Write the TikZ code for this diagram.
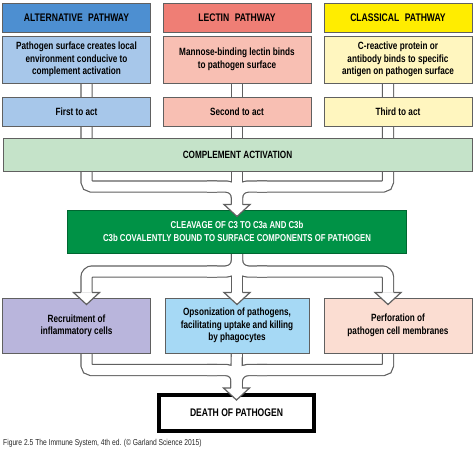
\documentclass[tikz,border=0pt]{standalone}
\usepackage{fontspec}
\setmainfont{Liberation Sans}[FakeStretch=0.78]
\usetikzlibrary{positioning}
\pgfdeclarelayer{background}
\pgfsetlayers{background,main}
\definecolor{altdark}{RGB}{77,143,209}
\definecolor{altlight}{RGB}{167,199,234}
\definecolor{lecdark}{RGB}{239,126,117}
\definecolor{leclight}{RGB}{248,191,179}
\definecolor{cladark}{RGB}{255,237,0}
\definecolor{clalight}{RGB}{255,246,191}
\definecolor{compgreen}{RGB}{197,227,201}
\definecolor{cleavgreen}{RGB}{0,146,70}
\definecolor{recpurple}{RGB}{185,181,220}
\definecolor{opsblue}{RGB}{166,217,245}
\definecolor{perfpink}{RGB}{251,221,210}
\definecolor{edge}{RGB}{96,96,96}
\newcommand{\hollowtip}[1]{%
  \filldraw[fill=white,draw=edge,line width=1.2pt] ([xshift=-5.6pt]#1) -- ([xshift=-13pt]#1)
    -- ([yshift=-12pt]#1) -- ([xshift=13pt]#1) -- ([xshift=5.6pt]#1);}

\begin{document}
\begin{tikzpicture}[x=1pt,y=-1pt,
    box/.style={draw=edge,line width=1pt,minimum width=148pt,inner sep=2pt,align=center,
      font=\fontsize{10.5}{12.4}\selectfont\bfseries},
    hdr/.style={box,minimum height=29pt,font=\fontsize{11}{12.4}\selectfont\bfseries},
    desc/.style={box,minimum height=47pt},
    rank/.style={box,minimum height=29pt},
    effect/.style={box,minimum height=55pt}]
  \useasboundingbox (0,0) rectangle (474,453);

  \draw node at (76.5,17.5)[name=altH,hdr,fill=altdark]{ALTERNATIVE\enspace PATHWAY};
  \draw node at (237,17.5)[name=lecH,hdr,fill=lecdark]{LECTIN\enspace PATHWAY};
  \draw node at (398,17.5)[name=claH,hdr,fill=cladark]{CLASSICAL\enspace PATHWAY};
  \draw node at (76.5,59.5)[name=altD,desc,fill=altlight]{Pathogen surface creates local\\environment conducive to\\complement activation};
  \draw node at (237,59.5)[name=lecD,desc,fill=leclight]{Mannose-binding lectin binds\\to pathogen surface};
  \draw node at (398,59.5)[name=claD,desc,fill=clalight]{C-reactive protein or\\antibody binds to specific\\antigen on pathogen surface};
  \draw node at (76.5,111.5)[name=altR,rank,fill=altlight]{First to act};
  \draw node at (237,111.5)[name=lecR,rank,fill=leclight]{Second to act};
  \draw node at (398,111.5)[name=claR,rank,fill=clalight]{Third to act};
  \draw node at (237.5,154.5)[name=comp,box,fill=compgreen,minimum width=469pt,minimum height=33pt]{COMPLEMENT ACTIVATION};
  \draw node at (237,231.5)[name=cleave,box,fill=cleavgreen,draw=cleavgreen!70!black,text=white,
    minimum width=339pt,minimum height=43pt,font=\fontsize{10}{12.6}\selectfont\bfseries]
    {CLEAVAGE OF C3 TO C3a AND C3b\\C3b COVALENTLY BOUND TO SURFACE COMPONENTS OF PATHOGEN};
  \draw node at (76.5,325.5)[name=recBox,effect,fill=recpurple]{Recruitment of\\inflammatory cells};
  \draw node at (237,325.5)[name=opsBox,effect,fill=opsblue,minimum width=144pt]{Opsonization of pathogens,\\facilitating uptake and killing\\by phagocytes};
  \draw node at (398,325.5)[name=perfBox,effect,fill=perfpink]{Perforation of\\pathogen cell membranes};
  \draw node at (236.5,413)[name=death,draw=black,fill=white,line width=4pt,minimum width=155pt,
    minimum height=36pt,font=\fontsize{11}{12}\selectfont\bfseries]{DEATH OF PATHOGEN};
  \draw node at (3,443)[name=caption,anchor=west,inner sep=0pt,text=black!85,
    font=\fontsize{8.6}{9}\selectfont]{Figure 2.5 The Immune System, 4th ed. (© Garland Science 2015)};

  \coordinate (tipTop) at ([yshift=5pt]cleave.north);
  \coordinate (tipRec) at ([xshift=10pt,yshift=5pt]recBox.north);
  \coordinate (tipOps) at ([yshift=5pt]opsBox.north);
  \coordinate (tipPerf) at ([xshift=-10pt,yshift=5pt]perfBox.north);
  \coordinate (tipDeath) at ([yshift=5pt]death.north);
  \coordinate (jTop) at (237,186.5);
  \coordinate (jMid) at (237,271.5);
  \coordinate (jLow) at (237,370);

  \begin{pgfonlayer}{background}
    \foreach \col/\wd in {edge/12.4pt,white/10pt}{
      \begin{scope}[draw=\col,line width=\wd]
        \draw[rounded corners=5pt] ([xshift=10pt]altD.center) |- ([xshift=-20pt]jTop);
        \draw[rounded corners=5pt] ([xshift=-10pt]claD.center) |- ([xshift=20pt]jTop);
        \draw[rounded corners=11pt] ([xshift=-30pt]jTop) -- (jTop) -- (tipTop);
        \draw[rounded corners=11pt] ([xshift=30pt]jTop) -- (jTop) -- (tipTop);
        \draw (lecD.center) -- (tipTop);
        \draw (cleave.center) -- (tipOps);
        \draw[rounded corners=11pt] (cleave.center) -- (jMid) -- ([xshift=-30pt]jMid);
        \draw[rounded corners=11pt] (cleave.center) -- (jMid) -- ([xshift=30pt]jMid);
        \draw[rounded corners=6pt] ([xshift=-20pt]jMid) -| (tipRec);
        \draw[rounded corners=6pt] ([xshift=20pt]jMid) -| (tipPerf);
        \draw (opsBox.center) -- (tipDeath);
        \draw[rounded corners=5pt] ([xshift=10pt]recBox.center) |- ([xshift=-20pt]jLow);
        \draw[rounded corners=5pt] ([xshift=-10pt]perfBox.center) |- ([xshift=20pt]jLow);
        \draw[rounded corners=11pt] ([xshift=-30pt]jLow) -- (jLow) -- (tipDeath);
        \draw[rounded corners=11pt] ([xshift=30pt]jLow) -- (jLow) -- (tipDeath);
      \end{scope}}
  \end{pgfonlayer}

  \hollowtip{tipTop}
  \hollowtip{tipRec}
  \hollowtip{tipOps}
  \hollowtip{tipPerf}
  \hollowtip{tipDeath}
\end{tikzpicture}
\end{document}
